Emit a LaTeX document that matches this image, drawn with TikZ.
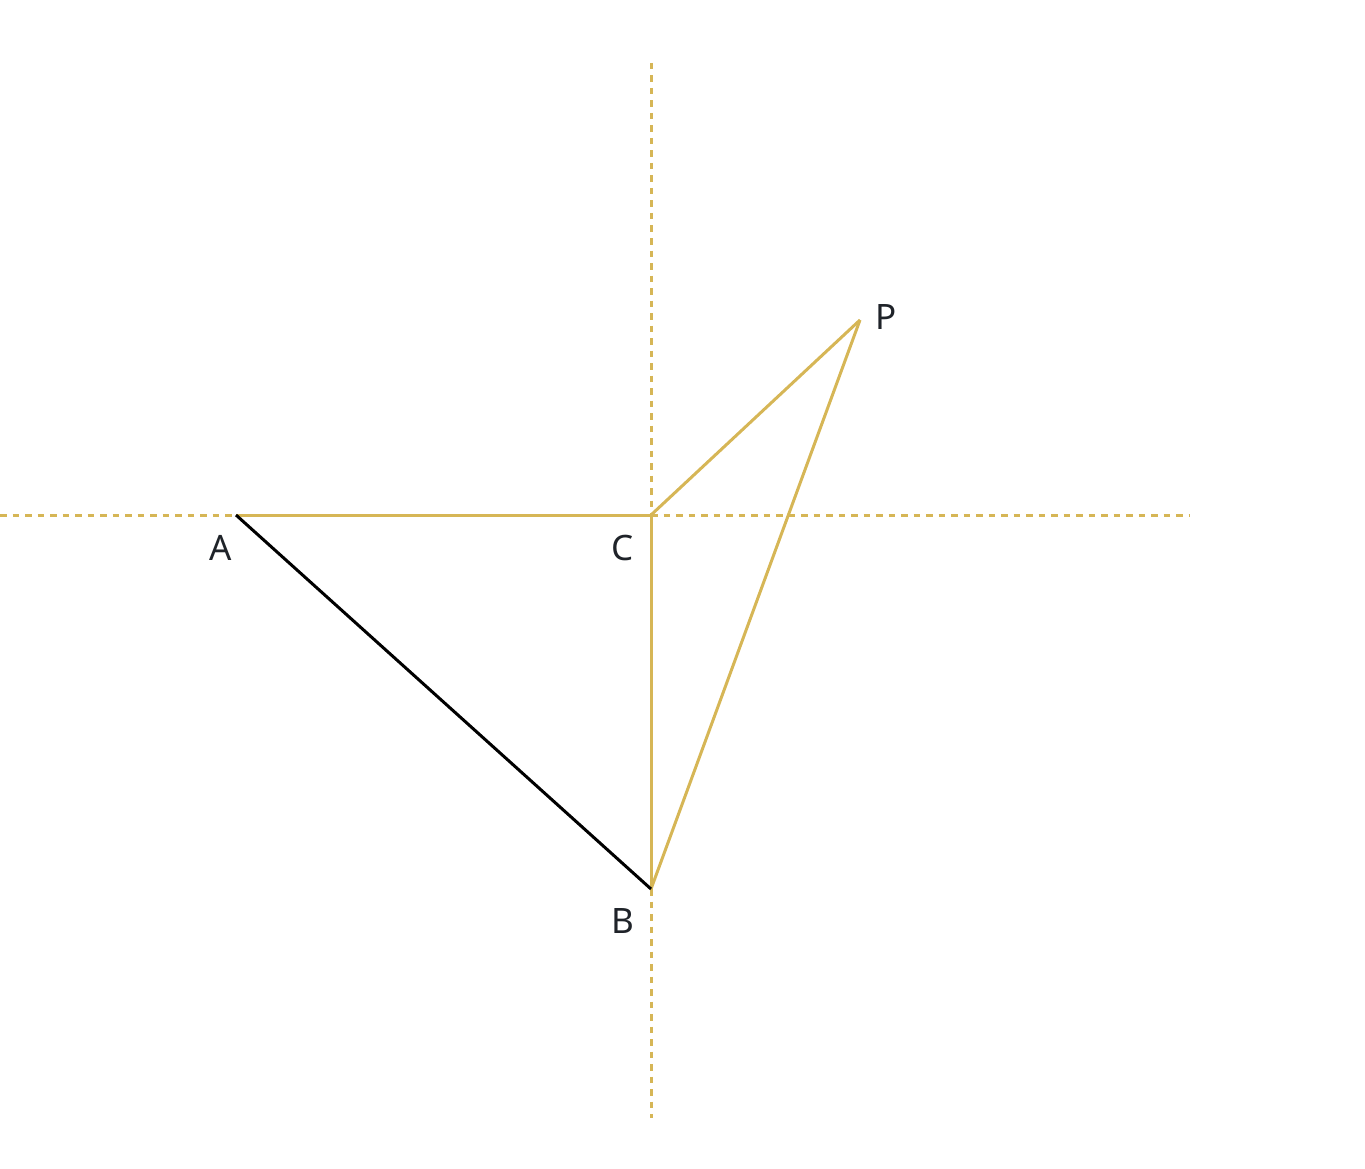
\documentclass[tikz,border=0pt]{standalone}
\usepackage{fontspec}
\setmainfont{Noto Sans}
\definecolor{gold}{HTML}{D6B656}
\definecolor{txt}{HTML}{1F2329}
\begin{document}
\begin{tikzpicture}[x=1pt,y=-1pt,
  seg/.style={line width=3pt,gold},
  guide/.style={line width=3pt,gold,dash pattern=on 6.5pt off 6pt},
  lbl/.style={font=\fontsize{35}{40}\selectfont,text=txt,inner sep=0pt}]
\useasboundingbox (0,0) rectangle (1365,1169);
\coordinate (A) at (236,515);
\coordinate (C) at (651,515);
\coordinate (B) at (651,889);
\coordinate (P) at (860,320);
\coordinate (L) at (0,515);
\coordinate (R) at (1190,515);
\coordinate (T) at (651,63);
\coordinate (D) at (651,1118);
\draw[guide] (L) -- (A);
\draw[guide] (C) -- (R);
\draw[guide] (T) -- (C);
\draw[guide] (B) -- (D);
\draw[seg] (A) -- (C);
\draw[seg] (C) -- (B);
\draw[seg] (C) -- (P);
\draw[seg] (P) -- (B);
\draw[line width=3pt,black] (A) -- (B);
\node[lbl] (la) at (221,548) {A};
\node[lbl] (lc) at (623,548) {C};
\node[lbl] (lb) at (623,921) {B};
\node[lbl] (lp) at (886,317) {P};
\end{tikzpicture}
\end{document}
